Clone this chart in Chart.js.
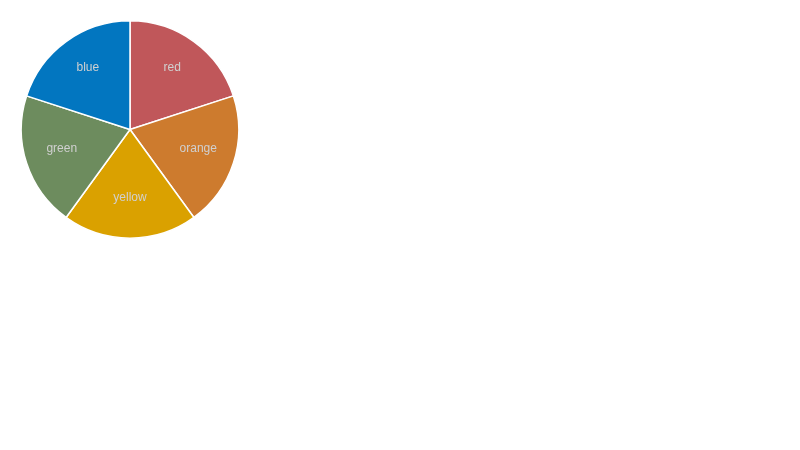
<!doctype html>
<html lang="en">
  <head>
    <meta charset="utf-8">
    <title>Pie chart</title>
    <style>
      * {
        margin: 0;
        padding: 0;
      }
      body {
        background: white;
        width: 800px;
        height: 450px;
      }
      .chartBox {
        position: absolute;
        left: 0;
        top: 0;
        width: 260px;
        height: 259px;
      }
    </style>
  </head>
  <body>
    <div class="chartBox">
      <canvas id="myChart"></canvas>
    </div>
    <script src="https://cdn.jsdelivr.net/npm/chart.js/dist/chart.umd.min.js"></script>
    <script>
    // setup
    const labels = ['red', 'orange', 'yellow', 'green', 'blue']
    const values = [1, 1, 1, 1, 1]
    const colors = ['#c0575a', '#cd7b2e', '#daa100', '#6d8c5e', '#0276c0']

    // labels inside the slices
    const sliceLabels = {
      id: 'sliceLabels',
      afterDatasetsDraw: (chart) => {
        const { ctx } = chart
        const meta = chart.getDatasetMeta(0)
        ctx.save()
        ctx.font = '12px "Liberation Sans", Arial, sans-serif'
        ctx.fillStyle = '#d0d0d0'
        ctx.textAlign = 'center'
        ctx.textBaseline = 'alphabetic'
        meta.data.forEach((arc, i) => {
          const p = arc.getProps(['x', 'y', 'startAngle', 'endAngle', 'outerRadius'], true)
          const mid = (p.startAngle + p.endAngle) / 2
          const r = p.outerRadius * 0.66
          ctx.fillText(labels[i], p.x + Math.cos(mid) * r, p.y + Math.sin(mid) * r)
        })
        ctx.restore()
      }
    }

    const config = {
      type: 'pie',
      data: {
        labels: labels,
        datasets: [{
          data: values,
          backgroundColor: colors,
          borderColor: '#ffffff',
          borderWidth: 1.5
        }]
      },
      options: {
        responsive: true,
        maintainAspectRatio: false,
        animation: false,
        layout: { padding: 20 },
        plugins: {
          legend: { display: false },
          tooltip: { enabled: false }
        }
      },
      plugins: [sliceLabels]
    }

    const myChart = new Chart(document.getElementById('myChart'), config)
    </script>
  </body>
</html>
